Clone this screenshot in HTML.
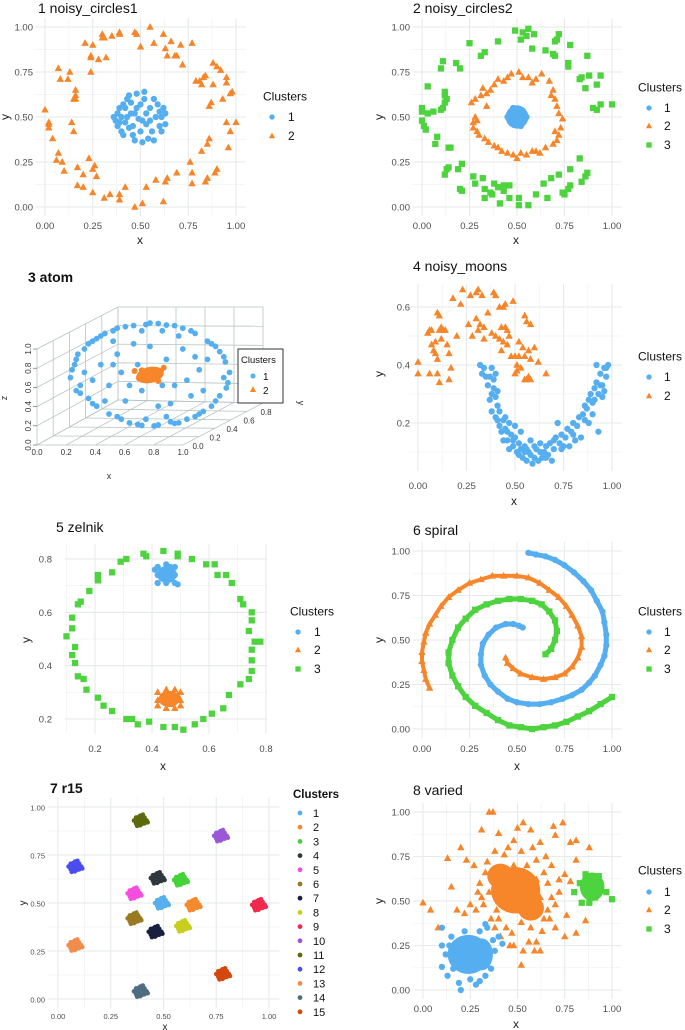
<!DOCTYPE html>
<html><head><meta charset="utf-8"><style>
html,body{margin:0;padding:0;background:#fff;}
svg{display:block;font-family:"Liberation Sans",sans-serif;}
</style></head><body>
<svg id="fig" width="685" height="1030" viewBox="0 0 685 1030"></svg>
<script>
const C_BLUE="#55AEF0",C_OR="#F7862A",C_GR="#4CD33D";
// ---------- data ----------
const p1Blue=[[0.38,0.52],[0.37,0.48],[0.38,0.45],[0.39,0.55],[0.40,0.50],[0.40,0.42],[0.41,0.40],[0.42,0.47],[0.42,0.55],[0.43,0.60],[0.44,0.62],[0.45,0.58],[0.45,0.52],[0.46,0.45],[0.46,0.40],[0.47,0.37],[0.48,0.63],[0.48,0.55],[0.49,0.49],[0.50,0.42],[0.50,0.57],[0.51,0.36],[0.52,0.60],[0.52,0.64],[0.53,0.52],[0.53,0.46],[0.54,0.38],[0.55,0.55],[0.55,0.48],[0.56,0.42],[0.57,0.60],[0.57,0.37],[0.58,0.50],[0.59,0.57],[0.60,0.45],[0.60,0.53],[0.61,0.50],[0.61,0.42],[0.62,0.55],[0.63,0.52],[0.63,0.46],[0.43,0.50],[0.44,0.44],[0.47,0.52],[0.51,0.48],[0.39,0.47],[0.41,0.57],[0.36,0.50]];
const p1Orange=[[0.55,1.0],[0.47,0.97],[0.48,0.96],[0.39,0.97],[0.39,0.96],[0.35,0.95],[0.30,0.96],[0.30,0.94],[0.31,0.94],[0.25,0.90],[0.21,0.91],[0.62,0.96],[0.57,0.91],[0.66,0.92],[0.71,0.90],[0.77,0.91],[0.50,0.89],[0.63,0.88],[0.64,0.84],[0.68,0.84],[0.69,0.84],[0.72,0.79],[0.24,0.84],[0.24,0.83],[0.28,0.82],[0.32,0.83],[0.24,0.75],[0.07,0.77],[0.13,0.75],[0.08,0.71],[0.12,0.71],[0.16,0.65],[0.16,0.62],[0.15,0.60],[0.16,0.60],[0.00,0.54],[0.02,0.47],[0.02,0.46],[0.02,0.44],[0.14,0.47],[0.15,0.42],[0.04,0.38],[0.07,0.30],[0.06,0.26],[0.09,0.25],[0.10,0.20],[0.17,0.22],[0.23,0.27],[0.26,0.23],[0.25,0.21],[0.27,0.17],[0.20,0.18],[0.17,0.12],[0.20,0.11],[0.25,0.08],[0.31,0.05],[0.34,0.07],[0.39,0.07],[0.39,0.04],[0.42,0.11],[0.47,0.00],[0.51,0.02],[0.53,0.11],[0.58,0.15],[0.63,0.14],[0.64,0.16],[0.62,0.03],[0.69,0.19],[0.76,0.25],[0.77,0.19],[0.77,0.13],[0.82,0.31],[0.84,0.14],[0.85,0.16],[0.85,0.35],[0.86,0.38],[0.89,0.19],[0.90,0.21],[0.96,0.33],[0.97,0.42],[0.95,0.47],[1.00,0.47],[0.93,0.60],[0.86,0.56],[0.87,0.58],[0.97,0.63],[0.98,0.64],[0.95,0.69],[0.95,0.72],[0.88,0.68],[0.82,0.68],[0.83,0.72],[0.84,0.73],[0.79,0.70],[0.81,0.70],[0.88,0.80],[0.90,0.78],[0.92,0.76]];
const p2Blue=[[0.50,0.50],[0.47,0.52],[0.53,0.52],[0.47,0.48],[0.53,0.48],[0.50,0.54],[0.50,0.46],[0.45,0.50],[0.55,0.50],[0.48,0.55],[0.52,0.45]];
const p2Orange=[[0.51,0.75],[0.53,0.72],[0.47,0.74],[0.45,0.72],[0.43,0.70],[0.40,0.71],[0.38,0.68],[0.36,0.65],[0.34,0.63],[0.31,0.62],[0.28,0.60],[0.26,0.58],[0.27,0.47],[0.28,0.50],[0.27,0.44],[0.29,0.42],[0.30,0.40],[0.33,0.38],[0.35,0.36],[0.38,0.34],[0.40,0.33],[0.42,0.31],[0.45,0.30],[0.48,0.29],[0.50,0.27],[0.52,0.30],[0.55,0.29],[0.58,0.31],[0.60,0.31],[0.62,0.30],[0.65,0.33],[0.69,0.35],[0.71,0.37],[0.72,0.40],[0.70,0.42],[0.73,0.44],[0.74,0.49],[0.72,0.52],[0.71,0.56],[0.70,0.60],[0.68,0.62],[0.69,0.65],[0.67,0.70],[0.60,0.71],[0.56,0.72],[0.58,0.69],[0.63,0.74],[0.32,0.66],[0.29,0.48],[0.34,0.56]];
const p2Green=[[0.49,0.98],[0.53,0.97],[0.56,0.99],[0.55,0.95],[0.52,0.93],[0.59,0.96],[0.58,0.88],[0.65,0.87],[0.70,0.92],[0.71,0.93],[0.72,0.96],[0.69,0.85],[0.70,0.84],[0.78,0.90],[0.77,0.80],[0.77,0.78],[0.87,0.84],[0.84,0.72],[0.83,0.71],[0.88,0.73],[0.86,0.66],[0.92,0.68],[0.94,0.73],[0.90,0.55],[0.94,0.57],[0.92,0.54],[1.00,0.57],[0.40,0.92],[0.33,0.86],[0.31,0.84],[0.25,0.91],[0.20,0.77],[0.18,0.80],[0.11,0.81],[0.10,0.77],[0.03,0.67],[0.12,0.64],[0.12,0.62],[0.13,0.60],[0.12,0.58],[0.11,0.55],[0.10,0.54],[0.00,0.55],[0.00,0.53],[0.03,0.52],[0.06,0.53],[0.00,0.48],[0.01,0.45],[0.02,0.43],[0.08,0.39],[0.07,0.35],[0.14,0.33],[0.15,0.33],[0.13,0.21],[0.14,0.22],[0.12,0.18],[0.21,0.24],[0.19,0.21],[0.20,0.10],[0.21,0.09],[0.27,0.17],[0.28,0.13],[0.32,0.16],[0.33,0.10],[0.33,0.05],[0.36,0.08],[0.37,0.07],[0.38,0.13],[0.40,0.11],[0.43,0.12],[0.43,0.09],[0.46,0.12],[0.46,0.05],[0.41,0.02],[0.51,0.05],[0.51,0.01],[0.56,0.01],[0.60,0.07],[0.64,0.13],[0.66,0.05],[0.68,0.16],[0.72,0.18],[0.74,0.08],[0.75,0.07],[0.77,0.10],[0.78,0.12],[0.78,0.21],[0.83,0.27],[0.84,0.14],[0.86,0.17],[0.87,0.19]];
const p3Blue=[[-0.95,0.1],[-0.9,0.3],[-0.85,-0.2],[-0.8,0.5],[-0.75,-0.45],[-0.7,0.65],[-0.65,-0.6],[-0.55,0.8],[-0.5,-0.75],[-0.4,0.9],[-0.35,-0.85],[-0.2,0.95],[-0.15,-0.95],[0,1],[0.05,-0.98],[0.2,0.96],[0.25,-0.9],[0.4,0.9],[0.45,-0.85],[0.55,0.8],[0.6,-0.75],[0.7,0.65],[0.75,-0.6],[0.85,0.45],[0.85,-0.4],[0.92,0.25],[0.95,-0.15],[0.97,0.05],[-0.97,-0.05],[-0.6,0.75],[-0.3,0.93],[0.1,0.99],[0.3,-0.93],[-0.25,-0.92],[0.65,-0.7],[0.8,0.55],[-0.88,0.4],[-0.9,-0.3],[-0.6,0.2],[-0.5,-0.2],[-0.4,0.4],[-0.3,-0.5],[-0.2,0.6],[-0.1,-0.3],[0.0,0.55],[0.1,-0.6],[0.2,0.3],[0.3,-0.2],[0.4,0.5],[0.5,-0.4],[0.6,0.1],[-0.7,-0.1],[0.35,0.75],[-0.45,0.65],[0.15,-0.2],[-0.15,0.2],[0.7,0.3],[-0.35,0.05],[0.55,0.35],[0.25,-0.55],[-0.55,-0.5],[-0.1,0.85],[0.15,0.85],[-0.05,-0.85],[0.2,-0.8],[0.9,-0.05],[-0.8,0.05],[-0.92,0.2],[-0.85,-0.35],[-0.75,0.6],[-0.65,0.7],[-0.45,0.85],[-0.05,0.97],[0.3,0.95],[0.5,0.85],[0.75,0.6],[0.9,0.35],[0.93,-0.25],[0.8,-0.5],[0.55,-0.8],[0.35,-0.92],[0.1,-0.96],[-0.1,-0.97],[-0.4,-0.8],[-0.7,-0.55],[-0.45,0.2],[0.45,-0.1],[-0.25,-0.2],[0.65,-0.3]];
const p3Orange=[[0,0],[-0.12,0.05],[0.12,-0.05],[-0.08,-0.12],[0.08,0.12],[0.2,0.1],[-0.2,-0.08],[0.15,-0.15],[-0.15,0.12],[0.25,0.18],[-0.28,0.1]];
const p4Blue=[[0.32,0.40],[0.33,0.37],[0.35,0.36],[0.38,0.39],[0.39,0.35],[0.39,0.32],[0.37,0.28],[0.40,0.29],[0.41,0.26],[0.40,0.22],[0.42,0.24],[0.42,0.19],[0.44,0.21],[0.43,0.17],[0.45,0.18],[0.46,0.14],[0.47,0.20],[0.48,0.16],[0.49,0.12],[0.50,0.15],[0.51,0.10],[0.52,0.13],[0.53,0.11],[0.54,0.08],[0.55,0.12],[0.56,0.07],[0.57,0.10],[0.58,0.09],[0.59,0.06],[0.60,0.08],[0.61,0.11],[0.62,0.07],[0.64,0.08],[0.65,0.10],[0.66,0.12],[0.67,0.09],[0.68,0.13],[0.70,0.11],[0.71,0.15],[0.73,0.13],[0.74,0.16],[0.76,0.15],[0.77,0.18],[0.79,0.17],[0.80,0.20],[0.82,0.19],[0.83,0.22],[0.85,0.23],[0.86,0.26],[0.87,0.25],[0.88,0.28],[0.89,0.30],[0.90,0.27],[0.91,0.32],[0.92,0.34],[0.93,0.30],[0.94,0.37],[0.95,0.33],[0.96,0.39],[0.97,0.36],[0.98,0.40],[0.92,0.40],[0.93,0.17],[0.78,0.12],[0.84,0.15],[0.63,0.13],[0.58,0.14],[0.50,0.19],[0.45,0.22],[0.36,0.33],[0.38,0.24],[0.44,0.14],[0.53,0.17],[0.69,0.07],[0.72,0.20],[0.88,0.20],[0.41,0.31],[0.47,0.11],[0.56,0.11],[0.75,0.12],[0.81,0.14],[0.90,0.23],[0.95,0.29],[0.34,0.39],[0.37,0.36],[0.40,0.37],[0.38,0.30],[0.41,0.21],[0.46,0.17],[0.49,0.14],[0.52,0.09],[0.55,0.10],[0.60,0.12],[0.63,0.10],[0.66,0.08],[0.70,0.14],[0.74,0.11],[0.80,0.16],[0.86,0.21],[0.91,0.28],[0.94,0.33],[0.97,0.39],[0.96,0.31]];
const p4Orange=[[0.00,0.41],[0.00,0.37],[0.06,0.37],[0.10,0.37],[0.11,0.34],[0.16,0.35],[0.17,0.39],[0.16,0.44],[0.15,0.47],[0.10,0.42],[0.09,0.44],[0.08,0.45],[0.07,0.47],[0.09,0.48],[0.06,0.52],[0.05,0.51],[0.07,0.52],[0.11,0.52],[0.12,0.53],[0.13,0.52],[0.14,0.52],[0.11,0.57],[0.10,0.58],[0.12,0.49],[0.18,0.63],[0.22,0.61],[0.23,0.66],[0.20,0.50],[0.27,0.64],[0.30,0.65],[0.31,0.66],[0.33,0.64],[0.26,0.54],[0.30,0.56],[0.31,0.52],[0.32,0.54],[0.34,0.53],[0.28,0.50],[0.34,0.49],[0.36,0.58],[0.39,0.65],[0.40,0.64],[0.42,0.60],[0.44,0.60],[0.45,0.61],[0.49,0.62],[0.38,0.51],[0.40,0.50],[0.42,0.49],[0.43,0.53],[0.45,0.53],[0.46,0.52],[0.47,0.50],[0.46,0.47],[0.44,0.48],[0.43,0.45],[0.48,0.43],[0.50,0.43],[0.52,0.48],[0.55,0.57],[0.56,0.55],[0.54,0.46],[0.52,0.43],[0.55,0.43],[0.57,0.45],[0.60,0.46],[0.58,0.42],[0.62,0.41],[0.51,0.40],[0.51,0.38],[0.50,0.37],[0.53,0.39],[0.55,0.35],[0.56,0.35],[0.57,0.36],[0.58,0.35],[0.66,0.37],[0.58,0.54]];
const p5Blue=[[0.42,0.77],[0.45,0.78],[0.48,0.77],[0.42,0.74],[0.45,0.74],[0.48,0.74],[0.42,0.71],[0.45,0.71],[0.48,0.71],[0.435,0.755],[0.465,0.725],[0.49,0.705],[0.41,0.76],[0.465,0.77]];
const p5Orange=[[0.42,0.30],[0.45,0.31],[0.48,0.31],[0.50,0.30],[0.42,0.27],[0.45,0.27],[0.48,0.27],[0.50,0.27],[0.42,0.25],[0.45,0.24],[0.48,0.24],[0.50,0.25],[0.435,0.285],[0.465,0.255],[0.49,0.29],[0.46,0.29]];
const p5Green=[[0.44,0.83],[0.49,0.82],[0.49,0.81],[0.54,0.80],[0.59,0.78],[0.62,0.78],[0.63,0.74],[0.66,0.74],[0.68,0.71],[0.71,0.65],[0.72,0.63],[0.75,0.60],[0.75,0.57],[0.74,0.53],[0.76,0.49],[0.78,0.49],[0.75,0.46],[0.75,0.42],[0.75,0.38],[0.74,0.35],[0.71,0.33],[0.67,0.29],[0.65,0.24],[0.61,0.22],[0.58,0.20],[0.55,0.18],[0.51,0.16],[0.48,0.17],[0.44,0.17],[0.39,0.19],[0.35,0.18],[0.33,0.20],[0.31,0.20],[0.26,0.23],[0.23,0.25],[0.21,0.28],[0.17,0.31],[0.16,0.35],[0.14,0.36],[0.13,0.41],[0.12,0.44],[0.13,0.47],[0.10,0.51],[0.12,0.54],[0.12,0.58],[0.14,0.63],[0.15,0.64],[0.18,0.68],[0.21,0.72],[0.21,0.74],[0.26,0.75],[0.29,0.79],[0.31,0.80],[0.37,0.82],[0.38,0.81]];
const p6Blue=[[0.56,0.99],[0.60,0.98],[0.65,0.97],[0.70,0.95],[0.75,0.92],[0.80,0.88],[0.85,0.83],[0.89,0.78],[0.92,0.72],[0.95,0.66],[0.96,0.60],[0.97,0.53],[0.97,0.47],[0.96,0.41],[0.94,0.36],[0.91,0.30],[0.88,0.26],[0.84,0.22],[0.79,0.19],[0.74,0.17],[0.68,0.15],[0.62,0.14],[0.56,0.14],[0.50,0.15],[0.45,0.17],[0.40,0.21],[0.36,0.25],[0.33,0.30],[0.31,0.36],[0.31,0.42],[0.32,0.48],[0.35,0.53],[0.39,0.57],[0.44,0.59],[0.48,0.59],[0.51,0.58],[0.53,0.57]];
const p6Orange=[[0.04,0.23],[0.02,0.28],[0.01,0.33],[0.00,0.38],[0.00,0.43],[0.01,0.49],[0.02,0.54],[0.04,0.59],[0.07,0.64],[0.10,0.69],[0.14,0.74],[0.19,0.78],[0.25,0.82],[0.31,0.84],[0.37,0.86],[0.43,0.86],[0.50,0.86],[0.56,0.85],[0.62,0.82],[0.67,0.78],[0.72,0.74],[0.76,0.69],[0.79,0.64],[0.82,0.58],[0.84,0.52],[0.84,0.46],[0.82,0.40],[0.79,0.35],[0.75,0.31],[0.70,0.29],[0.64,0.28],[0.58,0.29],[0.52,0.31],[0.48,0.34],[0.45,0.37],[0.44,0.40]];
const p6Green=[[0.65,0.42],[0.68,0.45],[0.70,0.50],[0.71,0.55],[0.70,0.61],[0.67,0.66],[0.63,0.70],[0.58,0.72],[0.52,0.73],[0.46,0.73],[0.40,0.72],[0.34,0.70],[0.28,0.67],[0.23,0.62],[0.19,0.57],[0.16,0.50],[0.14,0.43],[0.14,0.37],[0.16,0.30],[0.19,0.24],[0.23,0.18],[0.28,0.13],[0.34,0.09],[0.40,0.05],[0.46,0.02],[0.52,0.01],[0.58,0.00],[0.64,0.01],[0.70,0.02],[0.76,0.04],[0.82,0.07],[0.88,0.10],[0.94,0.14],[1.00,0.18]];
const r15Labels=["1","2","3","4","5","6","7","8","9","10","11","12","13","14","15"];
const r15CentersX=[0.49,0.64,0.58,0.47,0.36,0.36,0.46,0.59,0.95,0.77,0.39,0.08,0.08,0.39,0.78];
const r15CentersY=[0.50,0.49,0.62,0.63,0.55,0.42,0.35,0.38,0.49,0.85,0.93,0.69,0.28,0.04,0.13];
const r15Colors=["#56B0EE","#F5892E","#44D43A","#2E383D","#F54DE0","#9A7A20","#18203F","#C8CE20","#F02A4C","#9A58D6","#5D6A0D","#4A4CF2","#F08C4E","#4E6D80","#D2480F"];
const p8Blue=[[0.10,0.35],[0.10,0.25],[0.10,0.13],[0.13,0.08],[0.19,0.04],[0.20,0.00],[0.28,0.03],[0.33,0.37],[0.34,0.35],[0.42,0.26],[0.40,0.30],[0.30,0.05],[0.15,0.30],[0.36,0.12],[0.38,0.22],[0.12,0.20],[0.16,0.12],[0.25,0.06],[0.33,0.08],[0.37,0.28],[0.30,0.33],[0.22,0.33],[0.14,0.25]];
const p8BlueCore=[[0.24,0.20,0.11,0.11],[0.31,0.20,0.06,0.09]];
const p8Orange=[[0.35,1.0],[0.37,1.0],[0.53,0.94],[0.74,0.94],[0.69,0.92],[0.31,0.90],[0.40,0.88],[0.50,0.91],[0.57,0.90],[0.62,0.83],[0.70,0.87],[0.78,0.83],[0.81,0.84],[0.88,0.80],[0.20,0.80],[0.13,0.74],[0.23,0.73],[0.81,0.73],[0.27,0.70],[0.15,0.58],[0.00,0.49],[0.04,0.45],[0.18,0.45],[0.22,0.43],[0.08,0.35],[0.86,0.39],[0.81,0.32],[0.75,0.30],[0.62,0.22],[0.59,0.22],[0.53,0.22],[0.52,0.14],[0.56,0.27],[0.60,0.27],[0.48,0.25],[0.46,0.25],[0.70,0.35],[0.76,0.42],[0.67,0.40],[0.72,0.55],[0.75,0.65],[0.78,0.61],[0.30,0.60],[0.33,0.66],[0.38,0.78],[0.45,0.80],[0.48,0.84],[0.58,0.80],[0.65,0.75],[0.68,0.70],[0.25,0.48],[0.28,0.45],[0.29,0.55],[0.41,0.30],[0.44,0.35],[0.63,0.33],[0.66,0.45],[0.55,0.70],[0.36,0.40],[0.60,0.62],[0.50,0.50],[0.45,0.60],[0.40,0.50],[0.55,0.45],[0.35,0.55],[0.62,0.52],[0.48,0.70],[0.42,0.65],[0.52,0.38],[0.58,0.58],[0.32,0.48],[0.38,0.35],[0.64,0.66],[0.70,0.48],[0.34,0.72],[0.43,0.76],[0.52,0.78],[0.60,0.73],[0.66,0.60],[0.68,0.52],[0.64,0.40],[0.57,0.35],[0.47,0.32],[0.40,0.40],[0.31,0.52],[0.38,0.62],[0.72,0.62],[0.39,0.45]];
const p8OrangeCore=[[0.49,0.56,0.13,0.13],[0.41,0.64,0.07,0.07],[0.57,0.46,0.07,0.07]];
const p8Green=[[1.00,0.51],[0.84,0.49],[0.88,0.49],[0.80,0.55],[0.97,0.55],[0.86,0.65],[0.93,0.64],[0.91,0.52],[0.83,0.60]];
const p8GreenCore=[[0.895,0.58,0.065,0.08]];
const ticks01=[0,0.25,0.5,0.75,1], tickLab01=["0.00","0.25","0.50","0.75","1.00"];

// ---------- helpers ----------
const NS="http://www.w3.org/2000/svg", svg=document.getElementById('fig');
function mk(tag,attrs,parent){const e=document.createElementNS(NS,tag);for(const k in attrs)e.setAttribute(k,attrs[k]);(parent||svg).appendChild(e);return e;}
function txt(s,x,y,size,parent,anchor,extra){const e=mk('text',Object.assign({x:x,y:y,'font-size':size,fill:'#222','text-anchor':anchor||'start'},extra||{}),parent);e.textContent=s;return e;}
function mark(shape,x,y,col,g,s){s=s||1.12;let e;
 if(shape==='c')e=mk('circle',{cx:x,cy:y,r:2.8*s,fill:col},g);
 else if(shape==='t')e=mk('polygon',{points:`${x},${y-3.6*s} ${x-3.3*s},${y+2.4*s} ${x+3.3*s},${y+2.4*s}`,fill:col},g);
 else e=mk('rect',{x:x-2.8*s,y:y-2.8*s,width:5.6*s,height:5.6*s,fill:col},g);
 return e;}
function panel(cfg){
 const g=mk('g',{});
 
 
 const sx=v=>cfg.x0+(v-cfg.dx0)/(cfg.dx1-cfg.dx0)*(cfg.x1-cfg.x0);
 const sy=v=>cfg.y0-(v-cfg.dy0)/(cfg.dy1-cfg.dy0)*(cfg.y0-cfg.y1);
 const gx0=sx(cfg.lim[0]),gx1=sx(cfg.lim[1]),gy0=sy(cfg.lim[2]),gy1=sy(cfg.lim[3]);
 const grid=mk('g',{},g);
 
 
 cfg.minorX.forEach(v=>mk('line',{x1:sx(v),x2:sx(v),y1:gy1,y2:gy0,stroke:'#F1F3F3','stroke-width':0.8},grid));
 cfg.minorY.forEach(v=>mk('line',{x1:gx0,x2:gx1,y1:sy(v),y2:sy(v),stroke:'#F1F3F3','stroke-width':0.8},grid));
 cfg.xt.forEach(v=>mk('line',{x1:sx(v),x2:sx(v),y1:gy1,y2:gy0,stroke:'#E6EAEA','stroke-width':1.1},grid));
 cfg.yt.forEach(v=>mk('line',{x1:gx0,x2:gx1,y1:sy(v),y2:sy(v),stroke:'#E6EAEA','stroke-width':1.1},grid));
 const fs=cfg.tfs||9.5;
 const xa=mk('g',{},g);
 
 
 cfg.xt.forEach((v,i)=>txt(cfg.xl[i],sx(v),cfg.xly,fs,xa,'middle',{fill:'#4D4D4D'}));
 const ya=mk('g',{},g);
 
 
 cfg.yt.forEach((v,i)=>txt(cfg.yl[i],cfg.ylx,sy(v)+3.5,fs,ya,'end',{fill:'#4D4D4D'}));
 const xt=txt('x',cfg.xtitle[0],cfg.xtitle[1],cfg.afs||12,g,'middle');
 
 
 const yt=txt('y',cfg.ytitle[0],cfg.ytitle[1],cfg.afs||12,g,'middle',{transform:`rotate(-90 ${cfg.ytitle[0]} ${cfg.ytitle[1]})`});
 
 
 const tt=txt(cfg.title,cfg.tpos[0],cfg.tpos[1],cfg.tsize||14,g,'start',{'font-weight':cfg.bold?'bold':'normal',fill:'#111'});
 
 
 return {g,sx,sy};
}
function legend(parent,x,ty,entries,symX,labX,fs){
 const lg=mk('g',{},parent);
 
 
 txt('Clusters',x,ty+4.5,fs||12,lg,'start',{fill:'#111'});
 entries.forEach(en=>{
  const eg=mk('g',{},lg);
  
  
  mark(en.s,symX,en.y,en.c,eg,0.95);
  txt(en.l,labX,en.y+4,fs||12,eg,'start',{fill:'#111'});
 });
}
function pts(p,arr,shape,col,name){
 const g=mk('g',{},p.g);
 
 
 arr.forEach(d=>mark(shape,p.sx(d[0]),p.sy(d[1]),col,g));
 return g;
}
function cores(p,arr,col,name){
 const g=mk('g',{},p.g);
 
 
 arr.forEach(d=>{const cx=p.sx(d[0]),cy=p.sy(d[1]);mk('ellipse',{cx:cx,cy:cy,rx:Math.abs(p.sx(d[0]+d[2])-cx),ry:Math.abs(p.sy(d[1]+d[3])-cy),fill:col},g);});
}
function line(p,arr,col,w){
 mk('path',{d:arr.map((d,i)=>(i?'L':'M')+p.sx(d[0])+','+p.sy(d[1])).join(''),fill:'none',stroke:col,'stroke-width':w,'stroke-linejoin':'round','stroke-linecap':'round'},p.g);
}
const minor01=[0.125,0.375,0.625,0.875];
const base01={dx0:0,dx1:1,dy0:0,dy1:1,xt:ticks01,yt:ticks01,xl:tickLab01,yl:tickLab01,minorX:minor01,minorY:minor01,lim:[-0.05,1.05,-0.05,1.05]};

// Panel 1
let P=panel(Object.assign({},base01,{name:'panel-noisy-circles1',title:'1 noisy_circles1',tpos:[38,13],x0:45,x1:236,y0:207,y1:27,xly:229,ylx:33,xtitle:[140,244],ytitle:[9,117]}));
pts(P,p1Orange,'t',C_OR,'series-cluster-2');
pts(P,p1Blue,'c',C_BLUE,'series-cluster-1');
legend(P.g,263,96,[{s:'c',c:C_BLUE,l:'1',y:117},{s:'t',c:C_OR,l:'2',y:136}],272,288);

// Panel 2
P=panel(Object.assign({},base01,{name:'panel-noisy-circles2',title:'2 noisy_circles2',tpos:[413,13],x0:422,x1:612,y0:207,y1:27,xly:229,ylx:410,xtitle:[516,244],ytitle:[383,117]}));
pts(P,p2Green,'s',C_GR,'series-cluster-3');
pts(P,p2Orange,'t',C_OR,'series-cluster-2');
cores(P,[[0.5,0.5,0.06,0.065]],C_BLUE,'cluster-1-core');
pts(P,p2Blue,'c',C_BLUE,'series-cluster-1');
legend(P.g,638,87,[{s:'c',c:C_BLUE,l:'1',y:108},{s:'t',c:C_OR,l:'2',y:126},{s:'s',c:C_GR,l:'3',y:145}],649,664);

// Panel 3 atom (3D)
(function(){
 const g=mk('g',{});
 
 
 const tt=txt('3 atom',28,282,14,g,'start',{'font-weight':'bold',fill:'#111'});
 
 
 const st={stroke:'#B8C4C4','stroke-width':0.8,fill:'none'};
 mk('polygon',Object.assign({points:'37,349 118,307 118,400 37,445'},st),g);
 mk('polygon',Object.assign({points:'118,307 263,307 263,403 118,400'},st),g);
 mk('polygon',Object.assign({points:'37,445 183,445 263,403 118,400'},st),g);
 for(let i=1;i<5;i++){const t=i/5;
  mk('line',Object.assign({x1:37,y1:445-96*t,x2:118,y2:400-93*t},st),g);
  mk('line',Object.assign({x1:118,y1:400-93*t,x2:263,y2:403-96*t},st),g);
  mk('line',Object.assign({x1:37+81*t,y1:445-45*t,x2:37+81*t,y2:349-42*t},st),g);
  mk('line',Object.assign({x1:118+145*t,y1:307,x2:118+145*t,y2:400+3*t},st),g);
  mk('line',Object.assign({x1:37+146*t,y1:445,x2:118+145*t,y2:400+3*t},st),g);
  mk('line',Object.assign({x1:37+81*t,y1:445-45*t,x2:183+80*t,y2:445-42*t},st),g);
 }
 const zl=["0.0","0.2","0.4","0.6","0.8","1.0"];
 zl.forEach((s,i)=>{const y=445-96*i/5;txt(s,31,y,8,g,'middle',{fill:'#333',transform:`rotate(-90 31 ${y})`});mk('line',{x1:33,x2:37,y1:y,y2:y,stroke:'#555','stroke-width':0.6},g);});
 zl.forEach((s,i)=>txt(s,37+146*i/5,455,8,g,'middle',{fill:'#333'}));
 ["0.0","0.2","0.4","0.6","0.8"].forEach((s,i)=>txt(s,198+17*i,449-8.5*i,8,g,'middle',{fill:'#333'}));
 txt('x',109,479,9,g,'middle',{fill:'#333'});
 txt('z',7,398,9,g,'middle',{fill:'#333',transform:'rotate(-90 7 398)'});
 txt('y',298,403,9,g,'middle',{fill:'#333',transform:'rotate(90 298 403)'});
 const bg=mk('g',{},g);
 
 
 p3Blue.forEach(d=>mk('circle',{cx:150+d[0]*82,cy:375-d[1]*52,r:2.9,fill:C_BLUE},bg));
 const og=mk('g',{},g);
 
 
 mk('ellipse',{cx:150,cy:375,rx:14,ry:8,fill:C_OR,transform:'rotate(-12 150 375)'},og);
 p3Orange.forEach(d=>mk('circle',{cx:150+d[0]*55,cy:375-d[1]*40,r:3,fill:C_OR},og));
 const lg=mk('g',{},g);
 
 
 mk('rect',{x:238,y:349,width:45,height:54,fill:'#fff',stroke:'#333','stroke-width':1},lg);
 txt('Clusters',241,363,9.5,lg,'start',{fill:'#111'});
 mk('circle',{cx:253,cy:376,r:2.5,fill:C_BLUE},lg);txt('1',263,380,10,lg,'start',{fill:'#111'});
 mk('polygon',{points:'253,386 250,392 256,392',fill:C_OR},lg);txt('2',263,394,10,lg,'start',{fill:'#111'});
})();

// Panel 4
P=panel({name:'panel-noisy-moons',title:'4 noisy_moons',tpos:[413,271],dx0:0,dx1:1,dy0:0.4,dy1:0.6,x0:418,x1:612,y0:365,y1:307,xt:ticks01,xl:tickLab01,yt:[0.2,0.4,0.6],yl:["0.2","0.4","0.6"],minorX:minor01,minorY:[0.1,0.3,0.5],lim:[-0.05,1.05,0.035,0.68],xly:489,ylx:410,xtitle:[514,505],ytitle:[383,374]});
pts(P,p4Orange,'t',C_OR,'series-cluster-2');
pts(P,p4Blue,'c',C_BLUE,'series-cluster-1');
legend(P.g,638,356,[{s:'c',c:C_BLUE,l:'1',y:377},{s:'t',c:C_OR,l:'2',y:396}],649,664);

// Panel 5
P=panel({name:'panel-zelnik',title:'5 zelnik',tpos:[56,532],dx0:0.2,dx1:0.8,dy0:0.2,dy1:0.8,x0:95,x1:266,y0:719,y1:559,xt:[0.2,0.4,0.6,0.8],xl:["0.2","0.4","0.6","0.8"],yt:[0.2,0.4,0.6,0.8],yl:["0.2","0.4","0.6","0.8"],minorX:[0.1,0.3,0.5,0.7],minorY:[0.3,0.5,0.7],lim:[0.095,0.805,0.145,0.855],xly:752,ylx:52,xtitle:[163,770],ytitle:[30,640]});
pts(P,p5Green,'s',C_GR,'series-cluster-3');
cores(P,[[0.452,0.742,0.035,0.032]],C_BLUE,'cluster-1-core');
pts(P,p5Blue,'c',C_BLUE,'series-cluster-1');
cores(P,[[0.46,0.275,0.037,0.03]],C_OR,'cluster-2-core');
pts(P,p5Orange,'t',C_OR,'series-cluster-2');
legend(P.g,290,611,[{s:'c',c:C_BLUE,l:'1',y:632},{s:'t',c:C_OR,l:'2',y:650},{s:'s',c:C_GR,l:'3',y:669}],298,314);

// Panel 6
P=panel(Object.assign({},base01,{name:'panel-spiral',title:'6 spiral',tpos:[413,535],x0:422,x1:612,y0:729,y1:551,xly:752,ylx:410,xtitle:[517,770],ytitle:[383,640]}));
line(P,p6Orange,C_OR,4);line(P,p6Green,C_GR,5);line(P,p6Blue,C_BLUE,5);
pts(P,p6Orange,'t',C_OR,'series-cluster-2');
pts(P,p6Green,'s',C_GR,'series-cluster-3');
pts(P,p6Blue,'c',C_BLUE,'series-cluster-1');
legend(P.g,638,611,[{s:'c',c:C_BLUE,l:'1',y:632},{s:'t',c:C_OR,l:'2',y:650},{s:'s',c:C_GR,l:'3',y:669}],649,664);

// Panel 7
P=panel(Object.assign({},base01,{name:'panel-r15',title:'7 r15',tpos:[50,793],bold:true,tsize:14,x0:58,x1:269,y0:999,y1:807,xly:1019,ylx:45,xtitle:[165,1030],ytitle:[26,903],tfs:7.5,afs:10}));
const blobShape=[[0,0],[-0.02,0.015],[0.02,0.015],[-0.02,-0.015],[0.02,-0.015],[0,0.025],[0,-0.025],[-0.03,0],[0.03,0],[0.012,0.03],[-0.015,-0.028],[0.035,-0.01]];
r15CentersX.forEach((cx,i)=>{
 const g=mk('g',{},P.g);
 
 
 mk('ellipse',{cx:P.sx(cx),cy:P.sy(r15CentersY[i]),rx:6.5,ry:6,fill:r15Colors[i]},g);
 blobShape.forEach(o=>mk('circle',{cx:P.sx(cx+o[0]),cy:P.sy(r15CentersY[i]+o[1]),r:2.3,fill:r15Colors[i]},g));
});
(function(){const lg=mk('g',{},P.g);
 
 
 txt('Clusters',293,798,11.5,lg,'start',{fill:'#111','font-weight':'bold'});
 r15Labels.forEach((l,i)=>{const y=813+14.2*i;mk('circle',{cx:300,cy:y,r:2.4,fill:r15Colors[i]},lg);txt(l,313,y+4,11,lg,'start',{fill:'#111'});});
})();

// Panel 8
P=panel(Object.assign({},base01,{name:'panel-varied',title:'8 varied',tpos:[413,795],x0:423,x1:612,y0:990,y1:812,xly:1012,ylx:410,xtitle:[516,1028],ytitle:[383,901]}));
cores(P,p8OrangeCore,C_OR,'cluster-2-core');
pts(P,p8Orange,'t',C_OR,'series-cluster-2');
cores(P,p8BlueCore,C_BLUE,'cluster-1-core');
pts(P,p8Blue,'c',C_BLUE,'series-cluster-1');
cores(P,p8GreenCore,C_GR,'cluster-3-core');
pts(P,p8Green,'s',C_GR,'series-cluster-3');
legend(P.g,638,870,[{s:'c',c:C_BLUE,l:'1',y:892},{s:'t',c:C_OR,l:'2',y:910},{s:'s',c:C_GR,l:'3',y:929}],649,664);
</script>
</body></html>
